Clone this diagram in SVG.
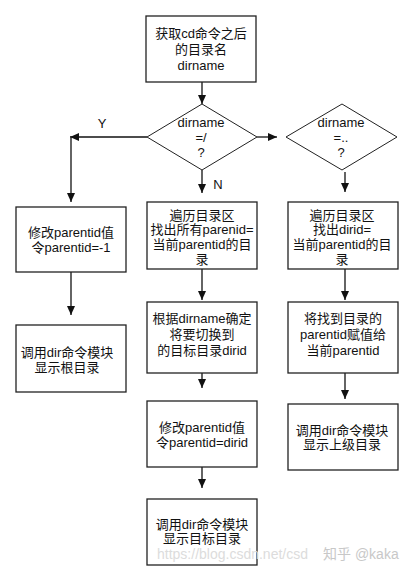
<svg xmlns="http://www.w3.org/2000/svg" width="408" height="570" viewBox="0 0 408 570">
<defs>
<style>
.box{fill:#fff;stroke:#222;stroke-width:1.3}
.dia{fill:#fff;stroke:#222;stroke-width:1}
.t{font-family:"Liberation Sans","Noto Sans CJK SC",sans-serif;font-size:13px;fill:#111;text-anchor:middle}
.c{fill:none;stroke:#111;stroke-width:1.3}
.wm{font-family:"Liberation Sans","Noto Sans CJK SC",sans-serif;font-size:14px;fill:#dcdcdc}
</style>
<marker id="ah" markerUnits="userSpaceOnUse" markerWidth="9" markerHeight="9" viewBox="0 0 9 9" refX="9" refY="4.5" orient="auto">
<path d="M0,0.5 L9,4.5 L0,8.5 z" fill="#111"/>
</marker>
</defs>
<rect width="408" height="570" fill="#fff"/>
<g id="connectors">
<path class="c" d="M202,82 V104" marker-end="url(#ah)"/>
<path class="c" d="M147,137 H70" marker-end="url(#ah)"/>
<path class="c" d="M71,138 V202" marker-end="url(#ah)"/>
<path class="c" d="M257,137 H277" marker-end="url(#ah)"/>
<path class="c" d="M202,170 V193" marker-end="url(#ah)"/>
<path class="c" d="M345,172 V192" marker-end="url(#ah)"/>
<path class="c" d="M71,272 V315" marker-end="url(#ah)"/>
<path class="c" d="M202,269 V300" marker-end="url(#ah)"/>
<path class="c" d="M202,373 V388" marker-end="url(#ah)"/>
<path class="c" d="M202,467 V488" marker-end="url(#ah)"/>
<path class="c" d="M345,269 V300" marker-end="url(#ah)"/>
<path class="c" d="M345,373 V399" marker-end="url(#ah)"/>
<text class="t" x="102" y="127.5">Y</text>
<text class="t" x="218" y="188.5">N</text>
</g>
<g id="start">
<rect class="box" x="146" y="16" width="110" height="66"/>
<text class="t" x="201" y="37.5">获取cd命令之后</text>
<text class="t" x="201" y="53.5">的目录名</text>
<text class="t" x="201" y="69.5">dirname</text>
</g>
<g id="dec1">
<polygon class="dia" points="202,104 257,137 202,170 147,137"/>
<text class="t" x="201" y="126.5">dirname</text>
<text class="t" x="201" y="141.5">=/</text>
<text class="t" x="201" y="156.5">?</text>
</g>
<g id="dec2">
<polygon class="dia" points="342,104 397,137 342,170 286,137"/>
<text class="t" x="341" y="126.5">dirname</text>
<text class="t" x="341" y="141.5">=..</text>
<text class="t" x="341" y="156.5">?</text>
</g>
<g id="left1">
<rect class="box" x="16" y="207" width="110" height="65"/>
<text class="t" x="71" y="236.5">修改parentid值</text>
<text class="t" x="71" y="251.5">令parentid=-1</text>
</g>
<g id="left2">
<rect class="box" x="16" y="325" width="110" height="67"/>
<text class="t" x="67" y="356.5">调用dir命令模块</text>
<text class="t" x="67" y="371.5">显示根目录</text>
</g>
<g id="mid1">
<rect class="box" x="147" y="202" width="110" height="67"/>
<text class="t" x="202" y="219.5">遍历目录区</text>
<text class="t" x="202" y="234.2">找出所有parenid=</text>
<text class="t" x="202" y="248.9">当前parentid的目</text>
<text class="t" x="202" y="263.6">录</text>
</g>
<g id="mid2">
<rect class="box" x="147" y="302" width="110" height="71"/>
<text class="t" x="202" y="322.5">根据dirname确定</text>
<text class="t" x="202" y="338.5">将要切换到</text>
<text class="t" x="202" y="354.5">的目标目录dirid</text>
</g>
<g id="mid3">
<rect class="box" x="147" y="401" width="110" height="66"/>
<text class="t" x="202" y="431.5">修改parentid值</text>
<text class="t" x="202" y="446.5">令parentid=dirid</text>
</g>
<g id="mid4">
<rect class="box" x="147" y="499" width="110" height="66"/>
<text class="t" x="202" y="528.5">调用dir命令模块</text>
<text class="t" x="202" y="543">显示目标目录</text>
</g>
<g id="right1">
<rect class="box" x="288" y="202" width="110" height="67"/>
<text class="t" x="342" y="219.5">遍历目录区</text>
<text class="t" x="342" y="234.2">找出dirid=</text>
<text class="t" x="342" y="248.9">当前parentid的目</text>
<text class="t" x="342" y="263.6">录</text>
</g>
<g id="right2">
<rect class="box" x="288" y="302" width="110" height="71"/>
<text class="t" x="343" y="322.5">将找到目录的</text>
<text class="t" x="343" y="338.5">parentid赋值给</text>
<text class="t" x="343" y="354.5">当前parentid</text>
</g>
<g id="right3">
<rect class="box" x="288" y="404" width="110" height="66"/>
<text class="t" x="342" y="434.5">调用dir命令模块</text>
<text class="t" x="342" y="448.5">显示上级目录</text>
</g>
<g id="watermark">
<text class="wm" x="157" y="559">https://blog.csdn.net/csd</text>
<text class="wm" x="323" y="559" style="fill:#c8c8c8">知乎 @kaka</text>
</g>
</svg>
